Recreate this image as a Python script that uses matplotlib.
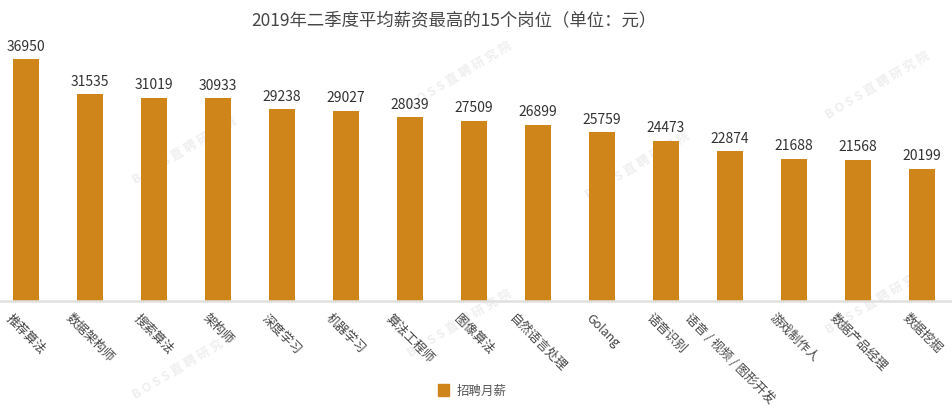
import matplotlib
matplotlib.use('Agg')
import matplotlib.pyplot as plt
from matplotlib.patches import Patch

plt.rcParams['font.family'] = ['Noto Sans CJK SC', 'DejaVu Sans']

jobs = ['推荐算法', '数据架构师', '搜索算法', '架构师', '深度学习', '机器学习',
        '算法工程师', '图像算法', '自然语言处理', 'Golang', '语音识别',
        '语音 / 视频 / 图形开发', '游戏制作人', '数据产品经理', '数据挖掘']
salary = [36950, 31535, 31019, 30933, 29238, 29027, 28039, 27509, 26899,
          25759, 24473, 22874, 21688, 21568, 20199]
series_name = '招聘月薪'
title = '2019年二季度平均薪资最高的15个岗位（单位：元）'

bar_color = '#cf8519'
W, H = 952, 411


def main():
    fig = plt.figure(figsize=(W / 100, H / 100), dpi=100)
    ax = fig.add_axes([0, (H - 300.5) / H, 1, (300.5 - 40) / H])

    # light watermark, kept behind the bars
    marks = [(185, 150), (185, 365), (460, 75), (460, 323), (638, 165),
             (878, 85), (878, 300)]
    for mx, my in marks:
        ax.text(mx / W, 1 - my / H, 'B O S S 直 聘 研 究 院', color='#efefef',
                fontsize=9, fontweight='bold', rotation=31,
                ha='center', va='center', zorder=0.5,
                transform=fig.transFigure, clip_on=False)

    x = range(len(jobs))
    ax.bar(x, salary, width=0.406, color=bar_color, zorder=2)
    for i, v in enumerate(salary):
        ax.annotate(str(v), (i, v), xytext=(0, 6), textcoords='offset points',
                    ha='center', va='baseline', fontsize=10, color='#333333')

    ax.set_xlim(-0.406, 14.469)
    ax.set_ylim(0, 260 / 241 * 36950)
    ax.set_xticks(list(x))
    ax.set_xticklabels(jobs, rotation=-45, ha='center', fontsize=9,
                       color='#444444')
    ax.tick_params(axis='x', length=0, pad=8)
    ax.set_yticks([])
    for s in ['top', 'right', 'left']:
        ax.spines[s].set_visible(False)
    ax.spines['bottom'].set_color('#e0e0e0')
    ax.spines['bottom'].set_linewidth(1.8)
    ax.spines['bottom'].set_zorder(3)
    ax.patch.set_alpha(0)

    fig.text(454 / W, 1 - 20 / H, title, ha='center', va='center',
             fontsize=12.5, color='#464646')

    fig.legend(handles=[Patch(color=bar_color)], labels=[series_name],
               loc='center', bbox_to_anchor=(472 / W, 1 - 391 / H),
               frameon=False, fontsize=9, labelcolor='#555555',
               handlelength=0.9, handleheight=1.1, handletextpad=0.6)

    fig.savefig('out.png', dpi=100)


if __name__ == '__main__':
    main()
